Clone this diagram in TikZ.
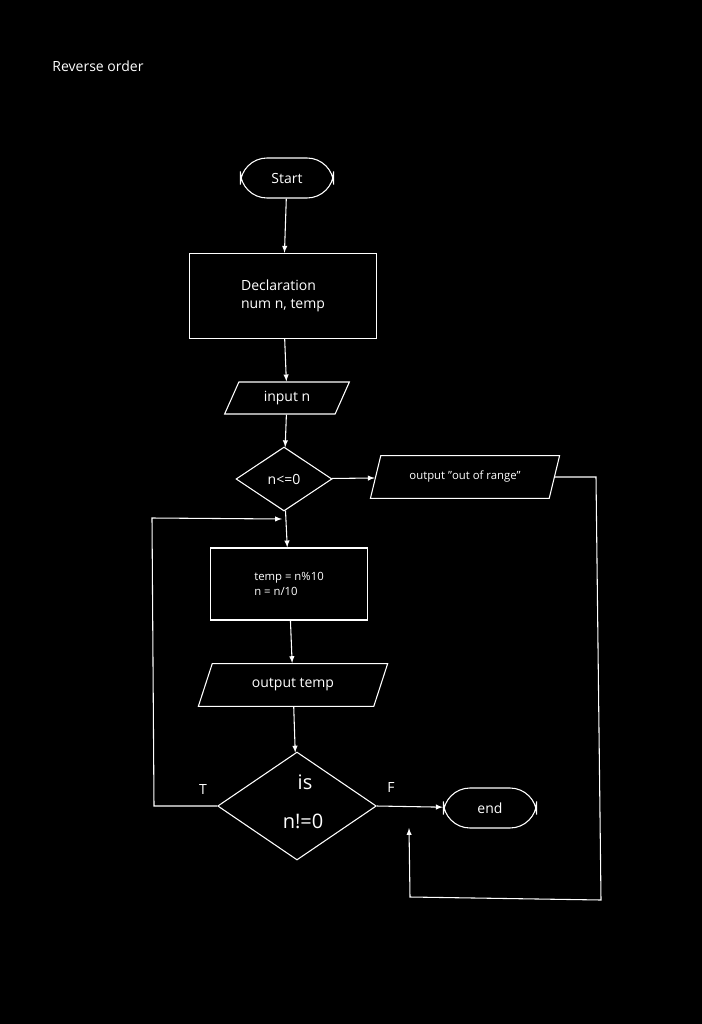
\documentclass[tikz,border=0pt]{standalone}
\usepackage{fontspec}
\setmainfont{Open Sans}
\usetikzlibrary{shapes.geometric}

\begin{document}
\begin{tikzpicture}[x=0.75pt, y=-0.75pt,
	line/.style={white, thick},
	flow/.style={-latex, white, thick},
	terminal/.style={draw=white, thick, rounded corners=20, minimum width=70, minimum height=30, text=white},
	process/.style={draw=white, thick, minimum width=140, minimum height=64, text=white},
	io/.style={draw=white, thick, trapezium, trapezium left angle=70, trapezium right angle=110, trapezium stretches=true, text=white},
	decision/.style={draw=white, thick, diamond, aspect=1.5, inner sep=0, text=white},
	every node/.style={font=\fontsize{10.5}{13}\selectfont}
	]
	\fill [black] (0,0) rectangle (702,1024);
	\node (title) at (98,66) [text=white] {Reverse order};

	\node (start) at (287,178) [terminal, minimum width=70] {Start};
	\node (decl) at (283,296) [process, align=left] {Declaration\\num n, temp};
	\node (inp) at (287,398) [io, minimum width=94, minimum height=24] {input n};
	\node (chk) at (284,479) [decision, minimum width=72, minimum height=48] {n<=0};
	\node (oor) at (465,477) [io, minimum width=142, minimum height=32, font=\fontsize{8.5}{10}\selectfont] {output "out of range"};
	\node (calc) at (289,584) [process, minimum width=118, minimum height=54, align=left, font=\fontsize{8.5}{11}\selectfont] {temp = n\%10\\n = n/10\phantom{0000}};
	\node (outt) at (293,685) [io, minimum width=142, minimum height=32] {output temp};
	\node (loop) at (297,806) [decision, minimum width=119, minimum height=81, aspect=1.46] {};
	\node (is) at (305,782) [text=white, font=\fontsize{15}{17}\selectfont] {is};
	\node (ne) at (303,821) [text=white, font=\fontsize{15}{17}\selectfont] {n!=0};
	\node (stop) at (490,808) [terminal] {end};
	\node (T) at (203,789) [text=white] {T};
	\node (F) at (391,787) [text=white] {F};

	\coordinate (back) at (282,519);
	\coordinate (ret) at (409,828);

	\draw [flow] (start) -- (decl);
	\draw [flow] (decl) -- (inp);
	\draw [flow] (inp) -- (chk);
	\draw [flow] (chk) -- (oor);
	\draw [flow] (chk) -- (calc);
	\draw [flow] (calc) -- (outt);
	\draw [flow] (outt) -- (loop);
	\draw [flow] (loop.east) -- (stop);
	\draw [flow] (loop.west) -- (154,806) -- (152,518) -- (back);
	\draw [flow] (oor.east) -- (596,477) -- (601,900) -- (410,897) -- (ret);
\end{tikzpicture}
\end{document}
